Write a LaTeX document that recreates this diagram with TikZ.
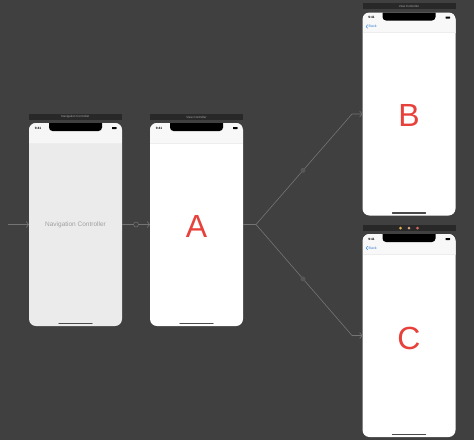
\documentclass[tikz,border=0pt]{standalone}
\usepackage{fontspec}
\setmainfont{Liberation Sans}
\usetikzlibrary{arrows.meta,calc}
\definecolor{bg}{HTML}{404040}
\definecolor{titlebg}{HTML}{282828}
\definecolor{titletxt}{HTML}{A8A8A8}
\definecolor{conncol}{HTML}{747474}
\definecolor{navbody}{HTML}{EBEBEB}
\definecolor{navbar}{HTML}{F6F6F6}
\definecolor{barcol}{HTML}{F8F8F8}
\definecolor{sepcol}{HTML}{EDEDED}
\definecolor{lettercol}{HTML}{E8413B}
\definecolor{navtext}{HTML}{A0A0A0}
\definecolor{backblue}{HTML}{3E82D8}
\definecolor{homebar}{HTML}{4A4A4A}
\definecolor{dotyellow}{HTML}{E2B04A}
\definecolor{dotorange}{HTML}{D8A08A}
\definecolor{dotred}{HTML}{D9685E}
\newcommand\phonedecor[3]{%
  \begin{scope}
    \clip[rounded corners=7pt] (#1.north west) rectangle (#1.south east);
    \fill[#2] (#1.north west) rectangle ($(#1.north east)+(0,20)$);
    \draw[sepcol,line width=0.3pt] ($(#1.north west)+(0,20)$) -- ($(#1.north east)+(0,20)$);
    \fill[black,rounded corners=3.5pt] ($(#1.north)+(-26.5,-4)$) -- ($(#1.north)+(-26.5,8)$) -- ($(#1.north)+(26.5,8)$) -- ($(#1.north)+(26.5,-4)$) -- cycle;
  \end{scope}
  \node[statustxt] (#1time) at ($(#1.north west)+(9,5)$) {9:41};
  \fill[black,rounded corners=0.4pt] ($(#1.north east)+(-10,4)$) rectangle ($(#1.north east)+(-5.5,6)$);
  \draw[homebar,line width=1.2pt,line cap=round] ($(#1.south)+(-16.5,-2.5)$) -- ($(#1.south)+(16.5,-2.5)$);
  #3%
}
\newcommand\backbtn[1]{%
  \draw[backblue,line width=0.45pt,line cap=round,line join=round] ($(#1.north west)+(5.2,12.2)$) -- ($(#1.north west)+(3.6,14)$) -- ($(#1.north west)+(5.2,15.8)$);
  \node[backtxt,anchor=west] (#1back) at ($(#1.north west)+(6,14)$) {Back};
}
\begin{document}
\begin{tikzpicture}[x=1pt,y=-1pt]
\tikzset{
  phone/.style={draw=none, rounded corners=7pt, minimum width=93pt, minimum height=203pt, inner sep=0pt, outer sep=0pt},
  titlebar/.style={fill=titlebg, minimum width=93pt, minimum height=6pt, inner sep=0pt, outer sep=0pt, text=titletxt, font=\fontsize{3}{3}\selectfont},
  statustxt/.style={inner sep=0pt, font=\fontsize{3.2}{3.2}\selectfont\bfseries},
  backtxt/.style={inner sep=0pt, text=backblue, font=\fontsize{3.6}{3.6}\selectfont},
  letter/.style={inner sep=0pt, text=lettercol, font=\fontsize{32}{32}\selectfont},
  conn/.style={draw=conncol, line width=0.6pt},
  tip/.style={-{Straight Barb[length=2.4pt,width=6pt,line width=0.6pt]}},
  segcircle/.style={circle, draw=conncol, fill=bg, line width=0.5pt, minimum size=5pt, inner sep=0pt},
  segdot/.style={circle, draw=none, fill=conncol!45!bg, minimum size=5pt, inner sep=0pt},
  wdot/.style={circle, minimum size=3pt, inner sep=0pt}
}
\fill[bg] (0,0) rectangle (474,440);
\useasboundingbox (0,0) rectangle (474,440);

% phones
\node[phone, fill=navbody] (nav) at (75.5,224.5) {};
\node[phone, fill=white] (A) at (196.5,224.5) {};
\node[phone, fill=white] (B) at (409,114) {};
\node[phone, fill=white] (C) at (409,335.5) {};

\phonedecor{nav}{navbar}{}
\phonedecor{A}{barcol}{}
\phonedecor{B}{barcol}{\backbtn{B}}
\phonedecor{C}{barcol}{\backbtn{C}}

% title bars
\node[titlebar] (navtitle) at (75.5,117) {Navigation Controller};
\node[titlebar] (Atitle) at (196.5,117) {View Controller};
\node[titlebar] (Btitle) at (409,6) {View Controller};
\node[titlebar] (Ctitle) at (409,228) {};
\node[wdot, fill=dotyellow] (dot1) at (400.5,228) {};
\node[wdot, fill=dotorange] (dot2) at (409,228) {};
\node[wdot, fill=dotred] (dot3) at (417.5,228) {};

% contents
\node[inner sep=0pt, text=navtext, font=\fontsize{6.5}{6.5}\selectfont] (navlabel) at (75.5,225) {Navigation Controller};
\node[letter] (Aletter) at (196.5,226) {A};
\node[letter] (Bletter) at (409,115) {B};
\node[letter] (Cletter) at (409,338) {C};

% connectors
\coordinate (entry) at (8,224.5);
\draw[conn,tip] (entry) -- (nav.west);
\draw[conn,tip] (nav.east) -- node[segcircle] (seg1) {} (A.west);
\coordinate (split) at (256,224.5);
\coordinate (bturn) at (352,114);
\coordinate (cturn) at (352,335.5);
\draw[conn] (A.east) -- (split);
\draw[conn,tip] (split) -- node[segdot, pos=0.49] (seg2) {} (bturn) -- (B.west);
\draw[conn,tip] (split) -- node[segdot, pos=0.49] (seg3) {} (cturn) -- (C.west);
\end{tikzpicture}
\end{document}
